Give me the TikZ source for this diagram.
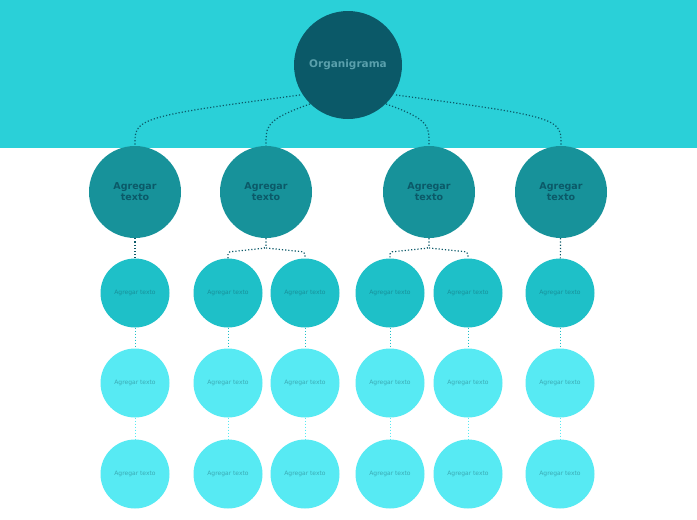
\documentclass[tikz,border=0pt]{standalone}
\usepackage{fontspec}
\setmainfont{DejaVu Sans}
\begin{document}
\begin{tikzpicture}[x=1pt,y=-1pt,
  band/.style={fill=cBand,draw=none},
  rootn/.style={circle,fill=cRoot,minimum size=108pt,inner sep=0pt,text=cRootT,font=\bfseries\fontsize{10.5}{12}\selectfont},
  lone/.style={circle,fill=cL1,minimum size=92pt,inner sep=0pt,text=cRoot,align=center,font=\bfseries\fontsize{9.5}{11}\selectfont},
  ltwo/.style={circle,fill=cL2,minimum size=69pt,inner sep=0pt,text=cL2T,font=\fontsize{6}{7}\selectfont},
  lthree/.style={circle,fill=cL3,minimum size=69pt,inner sep=0pt,text=cL3T,font=\fontsize{6}{7}\selectfont},
  conA/.style={draw=cRoot,line width=1.2pt,dotted},
  conB/.style={draw=cL1,line width=1pt,dotted},
  conC/.style={draw=cL2,line width=1pt,dotted}]
\definecolor{cBand}{HTML}{2AD0D8}
\definecolor{cRoot}{HTML}{0B5968}
\definecolor{cRootT}{HTML}{5AA0AC}
\definecolor{cL1}{HTML}{17929A}
\definecolor{cL2}{HTML}{1EC0C8}
\definecolor{cL2T}{HTML}{17909A}
\definecolor{cL3}{HTML}{57EAF3}
\definecolor{cL3T}{HTML}{3AAAB4}
\useasboundingbox (0,0) rectangle (697,520);
\fill[white] (0,0) rectangle (697,520);
\path[band] (0,0) rectangle (697,148);
% connectors root -> level 1
\draw[conA] (300,95) .. controls (150,115) and (135,118) .. (135,140) -- (135,146);
\draw[conA] (310,104) .. controls (270,118) and (266,125) .. (266,140) -- (266,146);
\draw[conA] (386,104) .. controls (426,118) and (429,125) .. (429,140) -- (429,146);
\draw[conA] (396,95) .. controls (546,115) and (561,118) .. (561,140) -- (561,146);
\node[rootn] (r) at (348,65) {Organigrama};
\node[lone] (a) at (135,192) {Agregar\\texto};
\node[lone] (b) at (266,192) {Agregar\\texto};
\node[lone] (c) at (429,192) {Agregar\\texto};
\node[lone] (d) at (561,192) {Agregar\\texto};
\foreach \n/\x in {a2/135,b2/228,c2/305,d2/390,e2/468,f2/560}
  \node[ltwo] (\n) at (\x,293) {Agregar texto};
\foreach \n/\x in {a/135,b/228,c/305,d/390,e/468,f/560}{
  \node[lthree] (\n3) at (\x,383) {Agregar texto};
  \node[lthree] (\n4) at (\x,474) {Agregar texto};
  \draw[conC] (\n2) -- (\n3);
  \draw[conC,draw=cL3] (\n3) -- (\n4);
}
\draw[conA] (a) -- (a2);
\draw[conA] (d) -- (f2);
\draw[conA,rounded corners=2pt] (b.south) -- (266,248) -- (228,252) -- (b2.north);
\draw[conA,rounded corners=2pt] (266,248) -- (305,252) -- (c2.north);
\draw[conA,rounded corners=2pt] (c.south) -- (429,248) -- (390,252) -- (d2.north);
\draw[conA,rounded corners=2pt] (429,248) -- (468,252) -- (e2.north);
\end{tikzpicture}
\end{document}
